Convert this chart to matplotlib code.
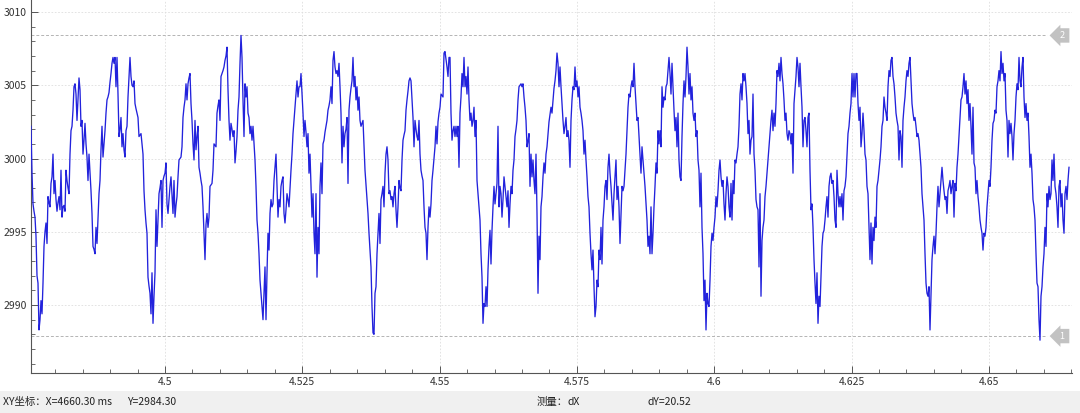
import numpy as np
import matplotlib.pyplot as plt
import matplotlib.transforms as mtransforms
from matplotlib.patches import Rectangle
from matplotlib.ticker import MultipleLocator

plt.rcParams['font.family'] = ['Noto Sans CJK SC', 'DejaVu Sans']

# sample clock of the trace (seconds)
t_start = 4.4756
t_step = 0.00018208

# trace values, left to right
part1 = [
    3002.2, 2999.0, 2996.9, 2996.4, 2996.0, 2994.7, 2992.0, 2991.5, 2988.3, 2989.0,
    2990.3, 2989.4, 2991.5, 2994.0, 2995.0, 2995.6, 2994.2, 2997.4, 2997.0, 2996.7,
    2998.3, 2998.75, 3000.3, 2997.6, 2998.5, 2997.2, 2996.4, 2997.0, 2997.4, 2996.5,
    2999.2, 2996.0, 2996.7, 2996.8, 2996.4, 2999.2, 2998.5, 2998.0, 2997.6, 3000.3,
    3001.9, 3002.2, 3003.3, 3004.9, 3005.1, 3004.4, 3002.6, 3004.0, 3005.5, 3004.7,
    3002.2, 3002.6, 3000.3, 3001.25, 3002.4, 3001.0, 3000.1, 2998.5, 3000.3, 2999.0,
    2997.8, 2996.25, 2994.0, 2993.8, 2993.5, 2995.3, 2994.2, 2996.0, 2997.6, 2998.5,
    3000.6, 3002.2, 3000.1, 3001.0, 3001.9, 3003.1, 3004.0, 3004.2, 3004.5, 3005.2,
    3005.8, 3006.5, 3006.9, 3006.5, 3006.9, 3004.9, 3006.9, 3004.4, 3001.5, 3002.0,
    3002.8, 3000.8, 3001.7, 3000.6, 3000.1, 3001.9, 3002.2, 3004.2, 3005.5, 3006.9,
    3005.6, 3005.0, 3004.9, 3005.3, 3003.75, 3003.4, 3003.1, 3002.8, 3001.5, 3001.6,
    3001.7, 3001.0, 3000.3, 2997.8, 2996.5, 2995.6, 2994.9, 2991.9, 2991.3, 2990.8,
    2989.4, 2992.2, 2988.75, 2990.6, 2992.2, 2996.5, 2994.0, 2995.8, 2997.6, 2998.0,
    2998.5, 2995.3, 2998.5, 2998.8, 2999.0, 2999.7, 2996.9, 2996.25, 2997.2, 2998.1,
    2998.75, 2997.5, 2996.25, 2998.5, 2996.0, 2996.8, 2997.4, 2998.75, 2999.9, 3000.0,
    3000.1, 3000.8, 3002.8, 3003.5, 3004.0, 3005.1, 3004.0, 3005.1, 3005.5, 3005.8,
    3003.75, 3002.6, 3001.0, 2999.9, 3002.6, 3000.6, 3001.5, 3002.2, 2999.4, 2999.0,
    2998.5, 2998.1, 2996.7, 2994.9, 2993.1, 2995.5, 2996.25, 2995.3, 2996.0, 2998.1,
    2998.2, 2998.3, 2999.2, 3001.0, 3000.9, 3000.8, 3003.1, 3003.6, 3004.0, 3002.6,
    3005.6, 3005.8, 3006.0, 3006.25, 3006.7, 3007.0, 3007.6, 3004.7, 3002.6, 3001.25,
    3002.4, 3002.0, 3001.5, 3001.9, 2999.7, 3000.5, 3001.5, 3003.3, 3004.2,
]
part2 = [
    3006.5, 3008.4, 3006.9, 3004.0, 3001.5, 3005.1, 3004.2, 3004.9, 3003.1, 3002.8,
    3001.7, 3002.2, 3001.25, 3002.2, 3001.0, 2999.9, 2998.1, 2995.8, 2994.9, 2993.5,
    2991.7, 2990.8, 2989.9, 2989.0, 2990.8, 2992.6, 2989.0, 2992.2, 2994.9, 2993.75,
    2996.25, 2997.2, 2996.7, 2996.9, 2998.5, 2999.4, 3000.3, 2998.1, 2996.0, 2997.2,
    2996.7, 2998.1, 2998.5, 2998.75, 2996.25, 2995.6, 2996.5, 2997.6, 2997.2, 2996.7,
    2998.0, 2999.2, 3000.3, 3001.7, 3002.6, 3003.5, 3004.4, 3005.3, 3004.2, 3004.9,
    3004.9, 3005.8, 3004.5, 3003.1, 3001.5, 3002.6, 3001.8, 3000.8, 3001.7, 2999.0,
    3000.3, 2998.1, 2996.0, 2997.6, 2994.9, 2993.5, 2997.6, 2991.9, 2995.3, 2993.5,
    2998.1, 2999.7, 2997.6, 3001.0, 3001.25, 3001.8, 3002.2, 3002.6, 3003.3, 3003.6,
    3004.0, 3004.9, 3003.75, 3006.7, 3007.3, 3006.25, 3005.8, 3006.0, 3005.6, 3006.5,
    3004.9, 3003.1, 2999.7, 3002.2, 3000.8, 3001.7, 3002.0, 3002.8, 2998.3, 3003.3,
    3004.2, 3004.8, 3005.3, 3006.9, 3004.9, 3005.6, 3004.0, 3004.9, 3003.3, 3004.2,
    3002.6, 3002.2, 3002.4, 3002.6, 3000.8, 2999.2, 2998.2, 2997.2, 2996.25, 2994.9,
    2993.8, 2992.6, 2989.9, 2988.1, 2988.0, 2990.8, 2991.25, 2993.5, 2994.9, 2996.25,
    2994.2, 2997.2, 2997.6, 2998.1, 2996.7, 2999.0, 3000.3, 3000.8, 2999.9, 2997.6,
    2997.8, 2997.2, 2997.4, 2996.7, 2997.6, 2998.1, 2996.5, 2995.3, 2996.7, 2998.5,
    2998.0, 2997.8, 2999.9, 3001.25, 3001.6, 3001.9, 3003.3, 3004.0, 3004.6, 3005.3,
    3005.5, 3005.3, 3004.0, 3002.8, 3000.8, 3002.6, 3002.0, 3001.5, 3001.25, 3002.6,
    3000.3, 2999.2, 2998.8, 2998.5, 2996.7, 2995.3, 2994.9, 2993.1, 2995.3, 2996.7,
    2996.0, 2996.9, 2998.5, 2999.2, 3000.0, 3000.8, 3002.2, 3001.0, 3002.5, 3003.1,
    3003.5, 3004.4, 3004.3, 3004.2, 3007.2, 3007.3, 3006.8, 3006.25, 3005.6, 3006.9,
]
part3 = [
    3006.9, 3003.1, 3001.25, 3001.9, 3002.2, 3001.5, 3002.2, 3001.5, 3002.2, 2999.4,
    3003.1, 3004.2, 3005.8, 3004.9, 3006.9, 3004.9, 3005.6, 3004.4, 3006.25, 3004.0,
    3002.6, 3003.1, 3002.2, 3002.6, 3003.5, 3001.5, 3002.6, 2998.5, 2997.6, 2996.7,
    2995.8, 2993.5, 2991.9, 2988.75, 2990.1, 2989.9, 2991.25, 2989.9, 2992.4, 2994.0,
    2995.1, 2992.8, 2995.1, 2996.7, 2998.1, 2996.9, 2997.6, 2998.3, 3002.2, 2996.7,
    2998.1, 2997.6, 2996.0, 2997.2, 2998.75, 2998.1, 2997.4, 2996.7, 2997.8, 2995.3,
    2996.9, 2998.1, 2997.6, 2999.2, 2999.9, 3001.5, 3002.0, 3002.6, 3004.0, 3004.9,
    3005.0, 3005.1, 3004.9, 3005.1, 3004.2, 3003.5, 3002.6, 3000.8, 3001.2, 3001.7,
    2998.1, 3000.3, 2998.75, 2999.9, 2998.5, 2997.6, 3000.3, 2996.25, 2990.8, 2994.7,
    2993.1, 2996.7, 2997.4, 2998.75, 2999.7, 2999.0, 3000.3, 3000.8, 3001.7, 3002.5,
    3003.0, 3003.5, 3003.1, 3004.0, 3004.8, 3005.3, 3006.0, 3007.2, 3006.5, 3004.9,
    3006.25, 3004.9, 3003.75, 3002.6, 3001.7, 3002.2, 3002.8, 3001.5, 3001.9, 3001.25,
    2999.4, 3002.6, 3004.0, 3004.9, 3004.7, 3006.25, 3004.9, 3005.3, 3004.2, 3004.9,
    3003.5, 3003.1, 3002.6, 3001.9, 3000.3, 3001.25, 2999.9, 2998.75, 2997.4, 2996.7,
    2994.9, 2993.5, 2992.4, 2993.75, 2991.25, 2989.2, 2989.9, 2991.7, 2991.25, 2993.75,
    2993.1, 2995.3, 2992.8, 2995.8, 2996.7, 2998.1, 2998.5, 2997.2, 2999.4, 3000.3,
    2999.0, 2998.1, 2996.9, 2995.8, 2997.6, 2998.75, 2999.9, 2997.2, 2998.1, 2996.7,
    2994.2, 2996.25, 2998.1, 2997.8, 2998.1, 2999.2, 3000.3, 3001.9, 3003.5, 3004.4,
    3004.2, 3004.9, 3005.3, 3004.9, 3006.5, 3004.9, 3003.75, 3002.6, 3002.8, 3001.5,
    3000.3, 2999.0, 3000.8, 2999.9, 2999.0, 2998.1, 2996.9, 2995.8, 2994.0, 2994.7,
    2993.5, 2996.7, 2993.5, 2994.9, 2996.7, 2998.1, 2999.7, 2999.0, 3001.9, 3001.0,
]
part4 = [
    3001.9, 3000.8, 3004.9, 3003.5, 3004.2, 3004.0, 3004.9, 3005.1, 3006.0, 3006.9,
    3005.8, 3004.4, 3006.5, 3004.9, 3003.3, 3001.9, 3002.8, 3000.8, 3003.1, 2999.9,
    2998.75, 2998.5, 3001.5, 3003.75, 3005.3, 3004.2, 3005.6, 3007.6, 3006.25, 3004.4,
    3005.8, 3004.0, 3004.9, 3003.1, 3002.6, 3003.1, 3001.5, 3001.9, 2999.9, 2999.2,
    2996.7, 2999.0, 2995.3, 2993.5, 2990.3, 2991.7, 2988.3, 2990.8, 2990.1, 2989.9,
    2991.7, 2994.0, 2994.9, 2994.4, 2995.3, 2996.0, 2997.4, 2996.7, 2997.8, 2999.2,
    2999.9, 2998.75, 2998.1, 2998.5, 2996.9, 2995.8, 2997.6, 2998.75, 2998.1, 2996.7,
    2996.0, 2998.3, 2995.8, 2998.5, 2997.6, 2999.9, 2999.7, 3000.3, 3000.8, 3002.2,
    3004.4, 3005.1, 3004.0, 3005.8, 3005.3, 3005.8, 3004.9, 3003.75, 3001.7, 3002.6,
    3000.3, 3001.25, 3001.5, 3004.4, 3000.3, 2999.2, 2997.2, 2996.7, 2996.5, 2992.6,
    2997.6, 2990.6, 2994.4, 2995.3, 2995.8, 2997.4, 2998.1, 2999.0, 2999.9, 3000.8,
    3001.7, 3002.6, 3003.3, 3001.9, 3003.1, 3002.2, 3003.75, 3006.0, 3005.6, 3006.5,
    3005.3, 3006.9, 3005.8, 3005.1, 3004.0, 3002.6, 3003.1, 3001.7, 3001.25, 3001.9,
    3001.7, 3001.0, 3001.7, 2999.0, 3003.75, 3004.7, 3005.6, 3006.9, 3006.25, 3004.9,
    3006.5, 3004.9, 3003.5, 3000.8, 3002.6, 3002.8, 3001.9, 3000.8, 3002.8, 3003.1,
    2999.2, 2996.5, 2996.9, 2995.3, 2993.1, 2991.5, 2990.1, 2992.2, 2988.75, 2990.6,
    2989.9, 2991.9, 2994.0, 2994.9, 2995.1, 2995.8, 2996.7, 2997.4, 2996.0, 2998.1,
    2998.75, 2999.0, 2998.3, 2998.5, 2997.4, 2995.8, 2995.3, 2999.2, 2997.6, 2996.7,
    2997.4, 2996.7, 2997.6, 2995.8, 2997.8, 2998.1, 2998.75, 3000.3, 3001.7, 3002.2,
    3003.1, 3003.75, 3005.8, 3004.2, 3005.8, 3004.2, 3005.8, 3005.8, 3003.75, 3002.6,
    3003.5, 3000.8, 3001.7, 3003.1, 3001.9,
]
part5 = [
    3000.3, 2999.9, 2998.1, 2997.6, 2995.3, 2993.1, 2995.6, 2992.8, 2995.3, 2994.4,
    2996.0, 2995.3, 2998.1, 2998.5, 2999.2, 2999.9, 3000.8, 3002.2, 3002.6, 3004.2,
    3003.5, 3003.1, 3002.6, 3004.9, 3006.0, 3005.6, 3006.7, 3006.9, 3005.6, 3005.1,
    3004.2, 3003.1, 3002.6, 3002.2, 2999.9, 3001.9, 3001.5, 2999.4, 3002.6, 3003.5,
    3004.2, 3005.3, 3006.0, 3005.6, 3006.5, 3006.9, 3005.3, 3003.75, 3003.1, 3002.6,
    3002.8, 3002.2, 3001.5, 3001.7, 3001.25, 3000.3, 2999.4, 2997.6, 2996.7, 2995.8,
    2993.5, 2991.5, 2990.8, 2990.6, 2991.25, 2988.3, 2990.8, 2993.1, 2994.0, 2994.7,
    2993.5, 2994.9, 2996.7, 2998.1, 2996.7, 2997.6, 2998.5, 2999.4, 2998.5, 2997.8,
    2997.2, 2997.4, 2996.25, 2997.8, 2998.1, 2998.5, 2997.6, 2998.1, 2998.5, 2996.0,
    2998.3, 2997.8, 2999.4, 3000.3, 3001.5, 3002.6, 3004.0, 3004.2, 3004.9, 3005.8,
    3004.4, 3005.3, 3003.75, 3004.7, 3002.6, 3003.75, 3002.2, 3000.3, 3003.5, 2999.7,
    2999.4, 2997.6, 2998.5, 2997.4, 2996.7, 2995.8, 2995.3, 2994.9, 2993.75, 2994.9,
    2994.7, 2995.3, 2996.7, 2997.6, 2998.5, 2998.1, 2999.4, 3001.25, 3002.4, 3002.6,
    3003.3, 3003.1, 3004.9, 3005.3, 3006.0, 3005.3, 3007.3, 3005.8, 3006.5, 3005.3,
    3005.8, 3003.3, 3002.6, 3000.1, 3002.6, 3001.7, 3002.4, 3001.5, 2999.9, 3001.7,
    3002.6, 3004.2, 3005.1, 3004.7, 3006.9, 3005.3, 3004.9, 3006.25, 3006.9, 3004.2,
    3002.8, 3003.75, 3002.6, 3003.1, 3001.5, 2999.4, 3000.3, 2999.0, 2997.2, 2996.7,
    2995.8, 2993.5, 2991.5, 2991.25, 2989.0, 2987.6, 2990.6, 2991.25, 2992.6, 2993.5,
    2995.3, 2994.0, 2997.6, 2996.7, 2998.1, 2997.2, 2997.6, 2999.9, 2998.5, 3000.3,
    2998.1, 2997.6, 2996.7, 2995.3, 2998.1, 2998.5, 2996.7, 2997.6, 2995.8, 2994.9,
    2997.6, 2998.1, 2997.2, 2998.5, 2999.4,
]

x_ticks = [4.5, 4.525, 4.55, 4.575, 4.6, 4.625, 4.65]
x_tick_labels = ['4.5', '4.525', '4.55', '4.575', '4.6', '4.625', '4.65']
y_ticks = [2990, 2995, 3000, 3005, 3010]
cursor_levels = [3008.40, 2987.88]
cursor_names = ['2', '1']
status_items = ['XY坐标：X=4660.30 ms', 'Y=2984.30', '测量：', 'dX', 'dY=20.52']

signal = np.concatenate([part1, part2, part3, part4, part5])
t = t_start + t_step * np.arange(len(signal))

W, H = 1080, 413
fig = plt.figure(figsize=(W / 100, H / 100), dpi=100)
fig.patch.set_facecolor('white')

# plot area in pixels: x 31..1072, y 0..373
ax = fig.add_axes([31 / W, 40 / H, 1041 / W, 373 / H])
ax.set_facecolor('white')

ax.plot(t, signal, color='#2222dc', lw=0.95, zorder=3)

ax.set_xlim(t_start, t_start + 1041 * t_step)
ax.set_ylim(2985.36, 3010.82)

ax.set_xticks(x_ticks, labels=x_tick_labels)
ax.set_yticks(y_ticks, labels=[str(v) for v in y_ticks])
ax.xaxis.set_minor_locator(MultipleLocator(0.005))
ax.yaxis.set_minor_locator(MultipleLocator(1))

ax.grid(True, which='major', color='#dedede', linestyle=(0, (2, 2)), lw=0.6, zorder=0)

for side in ['top', 'right']:
    ax.spines[side].set_visible(False)
for side in ['left', 'bottom']:
    ax.spines[side].set_color('#555555')
    ax.spines[side].set_linewidth(0.8)

ax.tick_params(which='major', direction='in', length=5, width=0.7, color='#555555',
               labelsize=7.5, labelcolor='#333333')
ax.tick_params(which='minor', direction='in', length=3, width=0.6, color='#555555')
ax.tick_params(axis='x', pad=3)
ax.tick_params(axis='y', pad=3)

# measurement cursors
trans = mtransforms.blended_transform_factory(ax.transAxes, ax.transData)
cursor_end = (1047 - 31) / 1041
for level, name in zip(cursor_levels, cursor_names):
    ax.plot([0, cursor_end], [level, level], transform=trans, color='#b4b4b4',
            lw=0.7, linestyle=(0, (3, 2)), zorder=2)
    ax.text(0.9905, level, ' ' + name + ' ', transform=trans, ha='center', va='center',
            fontsize=6.5, color='white', clip_on=False, zorder=4,
            bbox=dict(boxstyle='larrow,pad=0.3', fc='#c2c2c2', ec='none'))

# status bar
fig.add_artist(Rectangle((0, 0), 1, 22 / H, transform=fig.transFigure,
                         fc='#f0f0f0', ec='none', zorder=0))
status_x = [3, 127, 537, 568, 648]
for px, txt in zip(status_x, status_items):
    fig.text(px / W, 11 / H, txt, ha='left', va='center', fontsize=7.5, color='#222222')

fig.savefig('out.png', dpi=100)
